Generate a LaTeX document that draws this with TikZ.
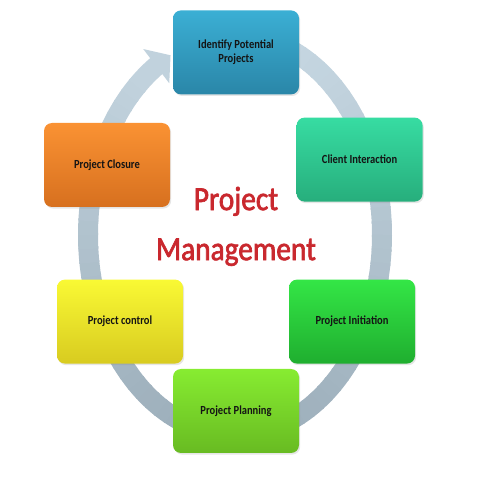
\documentclass[tikz,border=0pt]{standalone}
\usepackage{fontspec}
\setmainfont{Carlito}
\newfontfamily\stagefont{Carlito}[FakeStretch=0.85]
\newfontfamily\titlefont{Carlito}[FakeStretch=0.87,FakeBold=2]
\usepackage{tikz}
\usetikzlibrary{shapes,calc,arrows.meta,bending,shadows}

\definecolor{ringtop}{HTML}{C6D7E2}
\definecolor{ringbot}{HTML}{9DAFBB}
\definecolor{titlered}{HTML}{C9282E}
\definecolor{identtop}{HTML}{3BAFD4}
\definecolor{identbot}{HTML}{2A86A8}
\definecolor{clienttop}{HTML}{37DCA2}
\definecolor{clientbot}{HTML}{27AE7C}
\definecolor{inittop}{HTML}{34E646}
\definecolor{initbot}{HTML}{1FAE2F}
\definecolor{plantop}{HTML}{87EC31}
\definecolor{planbot}{HTML}{68BB22}
\definecolor{controltop}{HTML}{F9F934}
\definecolor{controlbot}{HTML}{D8CB20}
\definecolor{closuretop}{HTML}{FA9233}
\definecolor{closurebot}{HTML}{D7701F}

\begin{document}
\begin{tikzpicture}[
 stage/.style={rounded corners=0.2cm,minimum width=3.15cm,minimum height=2.1cm,align=center,text=black!92,font=\stagefont\fontsize{8.8}{9.6}\selectfont\bfseries,drop shadow={opacity=0.2,shadow xshift=0.3mm,shadow yshift=-0.4mm}},
 ring/.style={line width=0.5cm}
]
 \useasboundingbox (0,0) rectangle (12,12);
 \coordinate (c) at (5.875,6.125);
 % the ring, light at the top and darker at the bottom
 \foreach \a in {80,76,...,-224}{
  \pgfmathsetmacro\m{50+50*sin(\a)}
  \draw[ring,color=ringtop!\m!ringbot] ($(c)+(\a:3.675 and 5)$) arc[start angle=\a,end angle=\a-4.6,x radius=3.675,y radius=5];
 }
 \draw[ring,color=ringtop!87!ringbot,-{Triangle[length=0.45cm,width=1.05cm]}] ($(c)+(-228:3.675 and 5)$) arc[start angle=-228,end angle=-244,x radius=3.675,y radius=5];

 \node[stage,top color=identtop,bottom color=identbot] (ident) at (5.9,10.69) {Identify Potential\\Projects};
 \node[stage,top color=clienttop,bottom color=clientbot] (client) at (8.99,8.01) {Client Interaction};
 \node[stage,top color=inittop,bottom color=initbot] (init) at (8.8,3.96) {Project Initiation};
 \node[stage,top color=plantop,bottom color=planbot] (plan) at (5.9,1.725) {Project Planning};
 \node[stage,top color=controltop,bottom color=controlbot] (control) at (3.0,3.96) {Project control};
 \node[stage,top color=closuretop,bottom color=closurebot] (closure) at (2.675,7.875) {Project Closure};

 \node[align=center,text=titlered,font=\titlefont\fontsize{24}{35.6}\selectfont] (title) at (5.9,6.34) {Project\\Management};
\end{tikzpicture}
\end{document}
